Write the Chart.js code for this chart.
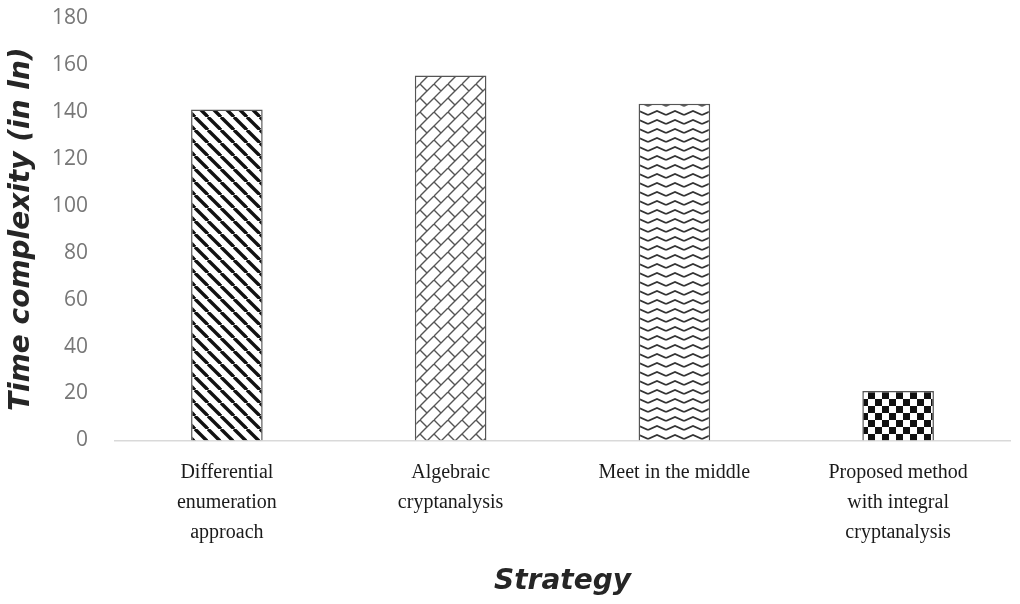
<!DOCTYPE html>
<html lang="en">
<head>
  <meta charset="UTF-8" />
  <title>Time complexity by strategy</title>
  <script src="https://cdn.jsdelivr.net/npm/chart.js"></script>
  <style>
    html, body { margin: 0; padding: 0; background: #fff; }
    #wrap { width: 1020px; height: 604px; }
  </style>
</head>
<body>
  <div id="wrap"><canvas id="strategyChart" width="1020" height="604"></canvas></div>

  <script>
    const categories = [
      ['Differential', 'enumeration', 'approach'],
      ['Algebraic', 'cryptanalysis'],
      ['Meet in the middle'],
      ['Proposed method', 'with integral', 'cryptanalysis']
    ];
    const complexity = [141, 155.5, 143.5, 21];
    const yTicks = [0, 20, 40, 60, 80, 100, 120, 140, 160, 180];

    function makeTile(size, draw) {
      const c = document.createElement('canvas');
      c.width = size; c.height = size;
      const g = c.getContext('2d');
      g.fillStyle = '#fff';
      g.fillRect(0, 0, size, size);
      draw(g, size);
      return g.createPattern(c, 'repeat');
    }

    const ctx = document.getElementById('strategyChart').getContext('2d');

    // wide downward diagonals
    const stripes = makeTile(13, (g, s) => {
      g.strokeStyle = '#111';
      g.lineWidth = 3.4;
      for (let k = -1; k <= 1; k++) {
        g.beginPath();
        g.moveTo(k * s, 0);
        g.lineTo(k * s + s, s);
        g.stroke();
      }
    });

    // diagonal brick: rows along "/" with staggered "\" joints
    // u = x + y across rows, v = x - y along rows
    const brick = makeTile(28, (g, s) => {
      const h = s / 2;
      const pt = (u, v) => [(u + v) / 2, (u - v) / 2];
      g.strokeStyle = '#555';
      g.lineWidth = 1.4;
      g.beginPath();
      for (let c = -s; c <= 3 * s; c += h) {
        g.moveTo(c - s, s); g.lineTo(c + s, -s);
      }
      for (let r = -4; r <= 8; r++) {
        const u0 = r * h;
        const off = (r % 2 === 0) ? 0 : h;
        for (let v = -3 * s + off; v <= 3 * s; v += s) {
          const a = pt(u0, v), b = pt(u0 + h, v);
          g.moveTo(a[0], a[1]); g.lineTo(b[0], b[1]);
        }
      }
      g.stroke();
    });

    // zigzag waves
    const wave = makeTile(18, (g, s) => {
      g.strokeStyle = '#333';
      g.lineWidth = 1.8;
      for (const y0 of [3, 12]) {
        g.beginPath();
        g.moveTo(0, y0 + 4);
        g.lineTo(s / 2, y0);
        g.lineTo(s, y0 + 4);
        g.stroke();
      }
    });

    // checkerboard
    const checker = makeTile(14, (g, s) => {
      g.fillStyle = '#111';
      g.fillRect(0, 0, 7, 7);
      g.fillRect(7, 7, 7, 7);
    });

    new Chart(ctx, {
      type: 'bar',
      data: {
        labels: categories,
        datasets: [{
          label: 'Time complexity',
          data: complexity,
          backgroundColor: [stripes, brick, wave, checker],
          borderColor: '#555',
          borderWidth: 1.5,
          barPercentage: 0.32,
          categoryPercentage: 1
        }]
      },
      options: {
        responsive: false,
        animation: false,
        layout: { padding: { top: 18, right: 10, bottom: 1, left: 5 } },
        plugins: {
          legend: { display: false },
          tooltip: { enabled: false }
        },
        scales: {
          x: {
            grid: { display: false },
            border: { color: '#d9d9d9', width: 1.5 },
            ticks: {
              color: '#1a1a1a',
              padding: 9,
              maxRotation: 0,
              font: { family: 'Liberation Serif', size: 20, lineHeight: 1.5 }
            },
            title: {
              display: true,
              text: 'Strategy',
              color: '#262626',
              padding: { top: 9 },
              font: { family: 'DejaVu Sans', size: 28, weight: 'bold', style: 'italic' }
            }
          },
          y: {
            min: 0,
            max: 180,
            afterBuildTicks: axis => { axis.ticks = yTicks.map(v => ({ value: v })); },
            afterFit: axis => { axis.width = 110; },
            grid: { display: false, tickLength: 27 },
            border: { display: false },
            ticks: {
              color: '#777',
              padding: 0,
              font: { family: 'Open Sans', size: 21 }
            },
            title: {
              display: true,
              text: 'Time complexity (in ln)',
              color: '#262626',
              padding: 0,
              font: { family: 'DejaVu Sans', size: 28, weight: 'bold', style: 'italic' }
            }
          }
        }
      }
    });
  </script>
</body>
</html>
